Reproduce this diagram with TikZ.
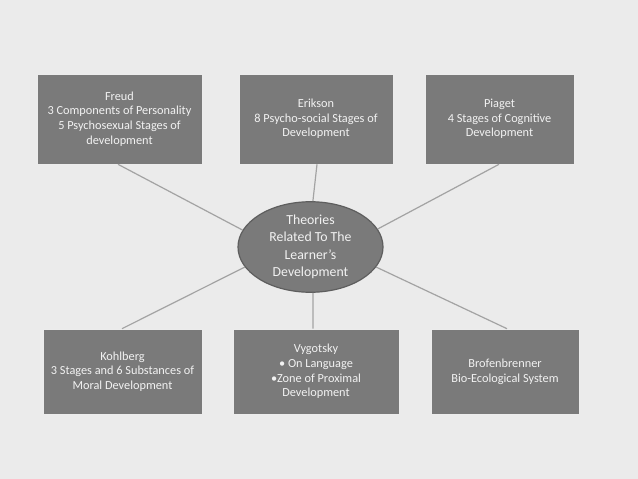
\documentclass[tikz,border=0pt]{standalone}
\usepackage{fontspec}
\setmainfont{Carlito}
\usetikzlibrary{shapes.geometric}
\definecolor{bg}{HTML}{EBEBEB}
\definecolor{boxfill}{HTML}{7A7A7A}
\definecolor{boxtext}{HTML}{F2F2F2}
\definecolor{linkcol}{HTML}{A3A3A3}
\definecolor{ellline}{HTML}{5E5E5E}
\tikzset{
  theorybox/.style={draw=white!85!gray, line width=0.6pt, fill=boxfill, text=boxtext, align=center,
    font=\fontsize{12.3}{14.7}\selectfont, inner sep=0pt},
  hub/.style={ellipse, draw=ellline, line width=1.2pt, fill=boxfill, text=boxtext, align=center,
    font=\fontsize{13.8}{17.4}\selectfont, minimum width=145pt, minimum height=90pt, inner sep=0pt},
  link/.style={draw=linkcol, line width=1.2pt}
}
\begin{document}
\begin{tikzpicture}[x=1pt,y=-1pt]
\fill[bg] (0,0) rectangle (638,479);
\useasboundingbox (0,0) rectangle (638,479);
% boxes
\node[theorybox, minimum width=165pt, minimum height=90pt] (freud) at (119.5,119)
  {Freud\\3 Components of Personality\\5 Psychosexual Stages of\\development};
\node[theorybox, minimum width=154pt, minimum height=90pt] (erik) at (316,119)
  {Erikson\\8 Psycho-social Stages of\\Development};
\node[theorybox, minimum width=149pt, minimum height=90pt] (piaget) at (499.5,119)
  {Piaget\\4 Stages of Cognitive\\Development};
\node[theorybox, minimum width=159pt, minimum height=85pt] (kohl) at (122.5,371.5)
  {Kohlberg\\3 Stages and 6 Substances of\\Moral Development};
\node[theorybox, minimum width=166pt, minimum height=85pt] (vyg) at (316,371.5)
  {Vygotsky\\• On Language\\•Zone of Proximal\\Development};
\node[theorybox, minimum width=148pt, minimum height=85pt] (brof) at (505,371.5)
  {Brofenbrenner\\Bio-Ecological System};
% hub
\node[hub] (hub) at (310.5,247)
  {Theories\\Related To The\\Learner’s\\Development};
% connectors
\coordinate (fA) at ([xshift=-1.5pt]freud.south);
\coordinate (eA) at ([xshift=1pt]erik.south);
\coordinate (pA) at ([xshift=-0.5pt]piaget.south);
\coordinate (kA) at ([xshift=-0.5pt]kohl.north);
\coordinate (vA) at ([xshift=-3pt]vyg.north);
\coordinate (bA) at ([xshift=2pt]brof.north);
\draw[link] (fA) -- (hub.166);
\draw[link] (eA) -- (hub.87);
\draw[link] (pA) -- (hub.15.7);
\draw[link] (kA) -- (hub.197.8);
\draw[link] (vA) -- (hub.-87);
\draw[link] (bA) -- (hub.-17.5);
\end{tikzpicture}
\end{document}
